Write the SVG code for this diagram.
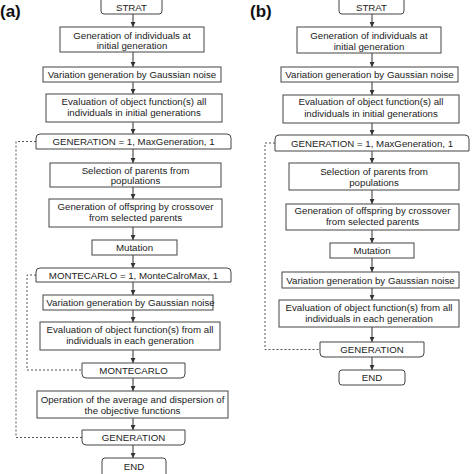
<svg xmlns="http://www.w3.org/2000/svg" width="474" height="474" viewBox="0 0 474 474">
<defs>
<marker id="ah" viewBox="0 0 6 6" refX="6" refY="3" markerWidth="5" markerHeight="5" markerUnits="userSpaceOnUse" orient="auto"><path d="M0,0 L6,3 L0,6 z" fill="#333"/></marker>
<style>
.b{fill:#fff;stroke:#444;stroke-width:1}
.t{font-family:"Liberation Sans",Arial,sans-serif;font-size:9.7px;fill:#222;text-anchor:middle}
.lbl{font-family:"Liberation Sans",Arial,sans-serif;font-size:17px;font-weight:bold;fill:#111}
.a{stroke:#333;stroke-width:1;fill:none;marker-end:url(#ah)}
.d{stroke:#555;stroke-width:1;fill:none;stroke-dasharray:2,2}
</style>
</defs>
<rect width="474" height="474" fill="#fff"/>
<text class="lbl" x="0" y="16.5">(a)</text>
<text class="lbl" x="250" y="16.5">(b)</text>

<g id="connectors">
<path class="d" d="M36,141.5 H16 V437.5 H82"/>
<path class="d" d="M36,275 H27 V370 H82"/>
<path class="d" d="M275,143 H265 V349.5 H320"/>
<line class="a" x1="133" y1="14" x2="133" y2="27"/>
<line class="a" x1="133" y1="52" x2="133" y2="67"/>
<line class="a" x1="133" y1="82" x2="133" y2="94"/>
<line class="a" x1="133" y1="122" x2="133" y2="134"/>
<line class="a" x1="133" y1="149" x2="133" y2="163"/>
<line class="a" x1="133" y1="187" x2="133" y2="199"/>
<line class="a" x1="133" y1="227" x2="133" y2="240"/>
<line class="a" x1="133" y1="255" x2="133" y2="268"/>
<line class="a" x1="133" y1="282" x2="133" y2="295"/>
<line class="a" x1="133" y1="310" x2="133" y2="322"/>
<line class="a" x1="133" y1="350" x2="133" y2="363"/>
<line class="a" x1="133" y1="378" x2="133" y2="391"/>
<line class="a" x1="133" y1="418" x2="133" y2="430"/>
<line class="a" x1="133" y1="445" x2="133" y2="458"/>
<line class="a" x1="372" y1="14" x2="372" y2="27"/>
<line class="a" x1="372" y1="53" x2="372" y2="67"/>
<line class="a" x1="372" y1="82" x2="372" y2="95"/>
<line class="a" x1="372" y1="123" x2="372" y2="135"/>
<line class="a" x1="372" y1="151" x2="372" y2="163"/>
<line class="a" x1="372" y1="190" x2="372" y2="204"/>
<line class="a" x1="372" y1="230" x2="372" y2="243"/>
<line class="a" x1="372" y1="258" x2="372" y2="272"/>
<line class="a" x1="372" y1="288" x2="372" y2="300"/>
<line class="a" x1="372" y1="327" x2="372" y2="342"/>
<line class="a" x1="372" y1="357" x2="372" y2="370"/>
</g>

<!-- Panel (a) -->
<g id="a_start"><rect class="b" x="101" y="-3" width="61" height="17" rx="3"/><text class="t" x="131.5" y="10.5">STRAT</text></g>
<g id="a_init"><rect class="b" x="60" y="27" width="144" height="25"/><text class="t" x="132" y="38.5">Generation of individuals at</text><text class="t" x="132" y="49">initial generation</text></g>
<g id="a_var1"><rect class="b" x="43" y="67" width="178" height="15"/><text class="t" x="132" y="78">Variation generation by Gaussian noise</text></g>
<g id="a_eval1"><rect class="b" x="46" y="94" width="176" height="28"/><text class="t" x="134" y="104.5">Evaluation of object function(s) all</text><text class="t" x="134" y="116">individuals in initial generations</text></g>
<g id="a_genloop"><path class="b" d="M36,149 V138 Q36,134 40,134 H227 Q231,134 231,138 V149 Z"/><text class="t" x="133.5" y="145">GENERATION = 1, MaxGeneration, 1</text></g>
<g id="a_sel"><rect class="b" x="50" y="163" width="171" height="24"/><text class="t" x="135.5" y="173.5">Selection of parents from</text><text class="t" x="135.5" y="184">populations</text></g>
<g id="a_cross"><rect class="b" x="49" y="199" width="173" height="28"/><text class="t" x="135.5" y="209.5">Generation of offspring by crossover</text><text class="t" x="135.5" y="221">from selected parents</text></g>
<g id="a_mut"><rect class="b" x="92" y="240" width="85" height="15"/><text class="t" x="134.5" y="251">Mutation</text></g>
<g id="a_mcloop"><path class="b" d="M36,282 V272 Q36,268 40,268 H227 Q231,268 231,272 V282 Z"/><text class="t" x="133.5" y="278.5">MONTECARLO = 1, MonteCalroMax, 1</text></g>
<g id="a_var2"><rect class="b" x="43" y="295" width="170" height="15"/><text class="t" x="130.5" y="306">Variation generation by Gaussian noise</text></g>
<g id="a_eval2"><rect class="b" x="40" y="322" width="180" height="28"/><text class="t" x="130" y="332.5">Evaluation of object function(s) from all</text><text class="t" x="130" y="344">individuals in each generation</text></g>
<g id="a_mcend"><path class="b" d="M82,363 H185 V374 Q185,378 181,378 H86 Q82,378 82,374 Z"/><text class="t" x="133.5" y="374">MONTECARLO</text></g>
<g id="a_oper"><rect class="b" x="37" y="391" width="191" height="27"/><text class="t" x="132.5" y="402.5">Operation of the average and dispersion of</text><text class="t" x="132.5" y="413.5">the objective functions</text></g>
<g id="a_genend"><path class="b" d="M82,430 H185 V441 Q185,445 181,445 H86 Q82,445 82,441 Z"/><text class="t" x="133.5" y="441">GENERATION</text></g>
<g id="a_end"><rect class="b" x="102" y="458" width="64" height="20" rx="3"/><text class="t" x="134" y="469.5">END</text></g>

<!-- Panel (b) -->
<g id="b_start"><rect class="b" x="339" y="-3" width="65" height="17" rx="3"/><text class="t" x="371.5" y="10.5">STRAT</text></g>
<g id="b_init"><rect class="b" x="297" y="27" width="144" height="26"/><text class="t" x="369" y="38.5">Generation of individuals at</text><text class="t" x="369" y="49.5">initial generation</text></g>
<g id="b_var1"><rect class="b" x="281" y="67" width="177" height="15"/><text class="t" x="369.5" y="78">Variation generation by Gaussian noise</text></g>
<g id="b_eval1"><rect class="b" x="283" y="95" width="176" height="28"/><text class="t" x="371" y="105">Evaluation of object function(s) all</text><text class="t" x="371" y="116.5">individuals in initial generations</text></g>
<g id="b_genloop"><path class="b" d="M275,151 V139 Q275,135 279,135 H465 Q469,135 469,139 V151 Z"/><text class="t" x="372" y="146.5">GENERATION = 1, MaxGeneration, 1</text></g>
<g id="b_sel"><rect class="b" x="289" y="163" width="170" height="27"/><text class="t" x="374" y="174.5">Selection of parents from</text><text class="t" x="374" y="186">populations</text></g>
<g id="b_cross"><rect class="b" x="286" y="204" width="173" height="26"/><text class="t" x="372.5" y="213.5">Generation of offspring by crossover</text><text class="t" x="372.5" y="224.5">from selected parents</text></g>
<g id="b_mut"><rect class="b" x="330" y="243" width="84" height="15"/><text class="t" x="372" y="254">Mutation</text></g>
<g id="b_var2"><rect class="b" x="282" y="272" width="177" height="16"/><text class="t" x="370.5" y="283.5">Variation generation by Gaussian noise</text></g>
<g id="b_eval2"><rect class="b" x="279" y="300" width="180" height="27"/><text class="t" x="369" y="310.5">Evaluation of object function(s) from all</text><text class="t" x="369" y="322">individuals in each generation</text></g>
<g id="b_genend"><path class="b" d="M320,342 H424 V353 Q424,357 420,357 H324 Q320,357 320,353 Z"/><text class="t" x="372" y="353">GENERATION</text></g>
<g id="b_end"><rect class="b" x="339" y="370" width="66" height="15" rx="3"/><text class="t" x="372" y="381">END</text></g>
</svg>
